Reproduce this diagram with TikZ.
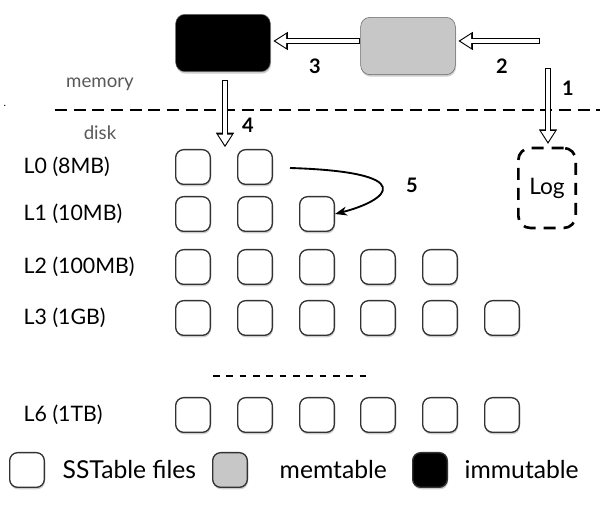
\documentclass[tikz,border=0pt]{standalone}
\usepackage{fontspec}
\setmainfont{Lato}
\usetikzlibrary{arrows.meta,shadows}
\newcommand\myharrow[2]{%
  \draw[black,line width=4.6pt,shorten >=2pt,-{Triangle[length=11pt,width=13pt]}] (#1) -- (#2);
  \draw[white,line width=3pt,shorten <=0.8pt,shorten >=3.6pt,-{Triangle[length=8pt,width=9.6pt]}] (#1) -- (#2);}
\begin{document}
\begin{tikzpicture}[x=0.75pt,y=-0.75pt,
  sst/.style={draw=black!80,line width=1pt,rounded corners=6pt,minimum width=26pt,minimum height=26pt,fill=white,drop shadow={shadow xshift=0.5pt,shadow yshift=-1.5pt,opacity=0.4}},
  big/.style={draw=black!60,rounded corners=7pt,minimum width=71pt,minimum height=43pt,drop shadow={shadow xshift=0.5pt,shadow yshift=-1.5pt,opacity=0.4}},
  lbl/.style={font=\fontsize{16}{18}\selectfont,anchor=west},
  num/.style={font=\bfseries\fontsize{15}{17}\selectfont},
  leg/.style={font=\fontsize{18.5}{21}\selectfont,anchor=west}]
\useasboundingbox (0,0) rectangle (600,505);
\fill[white] (0,0) rectangle (600,505);
\node[big,fill=black] (imm) at (223,43) {};
\node[big,fill=black!22] (mem) at (408,46) {};
\coordinate (in) at (540,41);
\coordinate (memE) at (mem.east |- in);
\coordinate (memW) at (mem.west |- in);
\coordinate (immE) at (imm.east |- in);
\myharrow{in}{memE}
\myharrow{memW}{immE}
\node[num] (n2) at (502,66) {2};
\node[num] (n3) at (315,66) {3};
\draw[line width=1.5pt,dash pattern=on 9pt off 5pt] (55,110) coordinate (dl) -- (600,110) coordinate (dr);
\node[font=\fontsize{8}{9}\selectfont] (dot) at (5,106) {.};
\node[font=\fontsize{14}{16}\selectfont,text=black!65] (memt) at (100,84) {memory};
\node[font=\fontsize{14}{16}\selectfont,text=black!65] (diskt) at (100,133) {disk};
\node[draw,line width=2pt,dash pattern=on 9pt off 6pt,rounded corners=9pt,minimum width=43pt,minimum height=60pt,font=\fontsize{17}{19}\selectfont] (log) at (547,188) {Log};
\coordinate (c1) at (548,68);
\coordinate (logN) at (log.north -| c1);
\myharrow{c1}{logN}
\node[num] (n1) at (568,88) {1};
% SSTables
\node[sst] (a1) at (193,167) {}; \node[sst] (a2) at (255,167) {};
\node[sst] (b1) at (193,214) {}; \node[sst] (b2) at (255,214) {}; \node[sst] (b3) at (317,214) {};
\foreach \i/\x in {1/193,2/255,3/317,4/378,5/440} \node[sst] (c\i) at (\x,267) {};
\foreach \i/\x in {1/193,2/255,3/317,4/378,5/440,6/502} \node[sst] (d\i) at (\x,318) {};
\foreach \i/\x in {1/193,2/255,3/317,4/378,5/440,6/502} \node[sst] (e\i) at (\x,415) {};
\node[lbl] (l0) at (19,167) {L0 (8MB)};
\node[lbl] (l1) at (19,214) {L1 (10MB)};
\node[lbl] (l2) at (19,267) {L2 (100MB)};
\node[lbl] (l3) at (19,318) {L3 (1GB)};
\node[lbl] (l6) at (19,415) {L6 (1TB)};
\coordinate (f4) at (225,80);
\coordinate (t4) at (225,150);
\myharrow{f4}{t4}
\node[num] (n4) at (248,125) {4};
\coordinate (s5) at (290,168);
\draw[line width=1.4pt,-{Stealth[length=9pt]}] (s5) .. controls (420,172) and (390,200) .. (b3.east);
\node[num] (n5) at (412,185) {5};
\draw[line width=1.3pt,dash pattern=on 5pt off 5pt] (213,376) coordinate (ddl) -- (367,376) coordinate (ddr);
% legend
\node[sst] (k1) at (27,470) {};
\node[leg] (t1) at (58,470) {SSTable files};
\node[sst,fill=black!22] (k2) at (230,470) {};
\node[leg] (t2) at (275,470) {memtable};
\node[sst,fill=black] (k3) at (430,470) {};
\node[leg] (t3) at (460,470) {immutable};
\end{tikzpicture}
\end{document}
